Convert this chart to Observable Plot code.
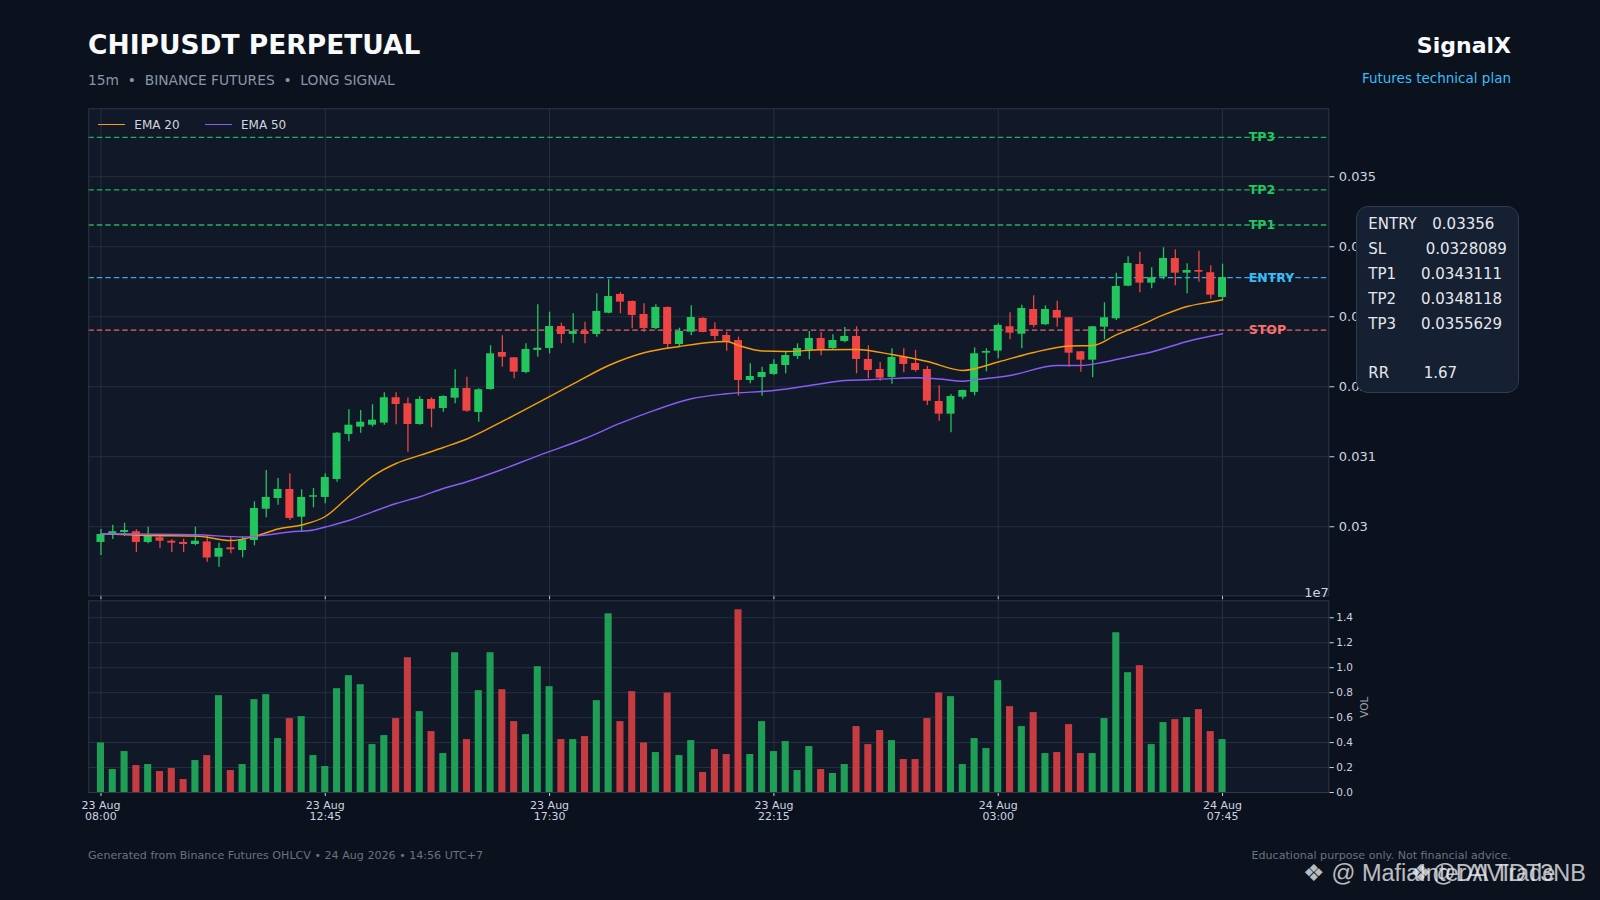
<!DOCTYPE html>
<html><head><meta charset="utf-8">
<script src="https://cdn.jsdelivr.net/npm/d3@7"></script>
<script src="https://cdn.jsdelivr.net/npm/@observablehq/plot@0.6"></script>
<style>
html,body{margin:0;padding:0;background:#0b111d;}
#page{position:relative;width:1600px;height:900px;overflow:hidden;font-family:"DejaVu Sans",sans-serif;background:#0b111d;}
.abs{position:absolute;white-space:pre;line-height:1;}
.plot{position:absolute;left:0;}
</style></head><body><div id="page"></div>
<script>
// ---------------- DATA ----------------
const open = [0.029776,0.029880,0.029919,0.029929,0.029776,0.029843,0.029794,0.029776,0.029747,0.029783,
0.029566,0.029700,0.029661,0.029804,0.030251,0.030404,0.030533,0.030137,0.030423,0.030419,
0.030676,0.031319,0.031423,0.031451,0.031481,0.031843,0.031757,0.031461,0.031819,0.031690,
0.031837,0.031976,0.031633,0.031961,0.032490,0.032414,0.032204,0.032519,0.032547,0.032861,
0.032747,0.032790,0.032747,0.033051,0.033319,0.033219,0.033033,0.032833,0.033133,0.032604,
0.032780,0.032976,0.032819,0.032733,0.032661,0.032090,0.032133,0.032176,0.032304,0.032433,
0.032520,0.032690,0.032547,0.032647,0.032719,0.032390,0.032247,0.032133,0.032419,0.032333,
0.032247,0.031790,0.031609,0.031851,0.031919,0.032480,0.032509,0.032857,0.032751,0.033104,
0.032886,0.033090,0.032986,0.032500,0.032380,0.032851,0.032971,0.033437,0.033747,0.033480,
0.033566,0.033833,0.033623,0.033661,0.033629,0.033276];
const high = [0.029961,0.030023,0.030051,0.029957,0.029994,0.029861,0.029814,0.029823,0.029994,0.029861,
0.029766,0.029861,0.029851,0.030357,0.030804,0.030690,0.030757,0.030529,0.030547,0.030757,
0.031347,0.031671,0.031661,0.031743,0.031914,0.031914,0.031839,0.031857,0.031843,0.031871,
0.032243,0.032137,0.031971,0.032586,0.032729,0.032420,0.032614,0.033171,0.033066,0.032909,
0.033043,0.032923,0.033329,0.033529,0.033343,0.033225,0.033186,0.033171,0.033140,0.032837,
0.033157,0.032985,0.032914,0.032780,0.032709,0.032329,0.032280,0.032386,0.032504,0.032614,
0.032790,0.032776,0.032743,0.032847,0.032857,0.032586,0.032347,0.032543,0.032543,0.032519,
0.032290,0.032014,0.031890,0.031950,0.032557,0.032543,0.032900,0.033057,0.033166,0.033300,
0.033157,0.033223,0.032990,0.032505,0.032862,0.033200,0.033623,0.033857,0.033923,0.033700,
0.033986,0.033957,0.033757,0.033937,0.033729,0.033751];
const low = [0.029590,0.029819,0.029861,0.029633,0.029757,0.029690,0.029633,0.029633,0.029729,0.029494,
0.029423,0.029614,0.029557,0.029729,0.030129,0.030309,0.030090,0.029919,0.030271,0.030329,
0.030637,0.031214,0.031337,0.031423,0.031451,0.031457,0.031064,0.031451,0.031414,0.031637,
0.031757,0.031637,0.031494,0.031951,0.032280,0.032114,0.032186,0.032423,0.032471,0.032614,
0.032623,0.032614,0.032709,0.033043,0.033043,0.032829,0.032780,0.032814,0.032543,0.032576,
0.032729,0.032770,0.032661,0.032509,0.031866,0.032043,0.031866,0.032161,0.032186,0.032390,
0.032386,0.032443,0.032529,0.032629,0.032186,0.032114,0.032080,0.032037,0.032200,0.032209,
0.031733,0.031509,0.031343,0.031814,0.031871,0.032214,0.032400,0.032671,0.032543,0.032843,
0.032876,0.032851,0.032280,0.032209,0.032129,0.032671,0.032947,0.033429,0.033343,0.033400,
0.033529,0.033443,0.033329,0.033494,0.033251,0.033233];
const close = [0.029890,0.029929,0.029947,0.029776,0.029861,0.029794,0.029766,0.029747,0.029794,0.029554,
0.029690,0.029671,0.029814,0.030261,0.030419,0.030533,0.030119,0.030419,0.030443,0.030704,
0.031337,0.031451,0.031494,0.031523,0.031843,0.031747,0.031461,0.031819,0.031680,0.031861,
0.031976,0.031651,0.031957,0.032471,0.032423,0.032209,0.032533,0.032551,0.032861,0.032747,
0.032790,0.032747,0.033076,0.033289,0.033209,0.033019,0.032833,0.033133,0.032604,0.032790,
0.032990,0.032776,0.032719,0.032647,0.032090,0.032147,0.032204,0.032319,0.032447,0.032547,
0.032690,0.032529,0.032661,0.032719,0.032390,0.032233,0.032123,0.032419,0.032319,0.032233,
0.031794,0.031609,0.031861,0.031947,0.032471,0.032504,0.032876,0.032766,0.033119,0.032876,
0.033104,0.032980,0.032480,0.032380,0.032857,0.032986,0.033433,0.033761,0.033480,0.033557,
0.033833,0.033623,0.033661,0.033637,0.033309,0.033560];
const volume = [3970000,1840000,3280000,2160000,2240000,1680000,1920000,1040000,2560000,2960000,
7760000,1760000,2240000,7440000,7840000,4320000,5920000,6080000,2960000,2080000,
8320000,9360000,8640000,3840000,4560000,5920000,10800000,6480000,4880000,3120000,
11200000,4240000,8160000,11200000,8240000,5680000,4640000,10080000,8480000,4240000,
4240000,4480000,7360000,14320000,5680000,8080000,3970000,3200000,7970000,2960000,
4160000,1600000,3440000,3040000,14640000,3040000,5680000,3280000,4080000,1760000,
3680000,1840000,1520000,2240000,5280000,3840000,4960000,4160000,2640000,2640000,
5920000,7970000,7680000,2240000,4320000,3520000,8960000,6880000,5280000,6400000,
3120000,3200000,5440000,3120000,3120000,5920000,12800000,9600000,10160000,3840000,
5600000,5840000,6000000,6640000,4880000,4240000];

// EMA readings from the picture (candle index, value)
const ema20Idx = [0,4,8,11,13,15,17,19,21,23,25,27,29,31,34,37,40,43,46,49,52,53,54,56,58,61,64,67,70,73,76,79,82,84,86,88,90,92,94,95];
const ema20Val = [0.029900,0.029876,0.029869,0.029804,0.029861,0.029969,0.030026,0.030147,0.030433,0.030719,
0.030904,0.031019,0.031133,0.031254,0.031504,0.031769,0.032040,0.032304,0.032486,0.032576,
0.032640,0.032647,0.032590,0.032511,0.032504,0.032529,0.032533,0.032461,0.032361,0.032233,
0.032354,0.032490,0.032583,0.032590,0.032740,0.032876,0.033026,0.033147,0.033211,0.033243];
const ema50Idx = [0,8,12,14,16,18,19,21,23,25,27,29,31,34,37,41,44,47,50,53,57,61,63,65,69,71,73,74,77,81,83,85,87,89,92,95];
const ema50Val = [0.029900,0.029886,0.029854,0.029883,0.029926,0.029954,0.029997,0.030090,0.030214,0.030333,
0.030429,0.030547,0.030643,0.030819,0.031014,0.031261,0.031480,0.031671,0.031829,0.031900,
0.031947,0.032043,0.032090,0.032100,0.032129,0.032111,0.032080,0.032100,0.032161,0.032304,
0.032304,0.032354,0.032426,0.032497,0.032647,0.032757];

const levelNames = ["TP3","TP2","TP1","ENTRY","STOP"];
const levelValues = [0.0355629,0.0348118,0.0343111,0.03356,0.0328089];
const planLabels = ["ENTRY","SL","TP1","TP2","TP3","RR"];
const planValues = ["0.03356","0.0328089","0.0343111","0.0348118","0.0355629","1.67"];

const tickIdx = [0,19,38,57,76,95];
const tickLabels = ["23 Aug\n08:00","23 Aug\n12:45","23 Aug\n17:30","23 Aug\n22:15","24 Aug\n03:00","24 Aug\n07:45"];
const priceTicks = [0.030,0.031,0.032,0.033,0.034,0.035];
const volTicks = [0,2e6,4e6,6e6,8e6,10e6,12e6,14e6];

// ---------------- STYLE ----------------
const GREEN="#22c55e", RED="#ef4444", VGREEN="#1f9f56", VRED="#c73c40";
const PANEL="#111827", GRID="#253042", FRAME="#2d384a", TXT="#cbd5e1";
const LEVEL_COLOR = {TP3:"#22c55e",TP2:"#22c55e",TP1:"#22c55e",ENTRY:"#38bdf8",STOP:"#f87171"};
const FONT = "DejaVu Sans, sans-serif";

const N = close.length;
const candles = d3.range(N).map(i => ({i, o:open[i], h:high[i], l:low[i], c:close[i], v:volume[i], up: close[i] >= open[i]}));
const levels = levelNames.map((name,k) => ({name, value: levelValues[k]}));
const ema20 = ema20Idx.map((i,k) => ({i, v: ema20Val[k]}));
const ema50 = ema50Idx.map((i,k) => ({i, v: ema50Val[k]}));
const xDomain = [-1.03, 104];
const page = document.getElementById("page");

function addText(txt, {x, base, size, weight="normal", color="#fff", anchor="start", family=FONT, opacity=1}) {
  const d = document.createElement("div");
  d.className = "abs";
  d.textContent = txt;
  d.style.fontSize = size + "px";
  d.style.fontWeight = weight;
  d.style.color = color;
  d.style.fontFamily = family;
  d.style.opacity = opacity;
  d.style.top = (base - 0.846*size) + "px";
  if (anchor === "end") d.style.right = (1600 - x) + "px"; else d.style.left = x + "px";
  page.appendChild(d);
  return d;
}

// ---------------- PRICE PANEL ----------------
const price = Plot.plot({
  width: 1600, height: 500,
  marginTop: 8.3, marginBottom: 4.7, marginLeft: 88.3, marginRight: 271.7,
  style: {background: "transparent", fontFamily: FONT, color: TXT, overflow: "visible"},
  x: {domain: xDomain},
  y: {domain: [0.029014, 0.035971]},
  marks: [
    Plot.frame({fill: PANEL}),
    Plot.gridX(tickIdx, {stroke: GRID, strokeOpacity: 1}),
    Plot.gridY(priceTicks, {stroke: GRID, strokeOpacity: 1}),
    Plot.ruleY(levels, {y: "value", stroke: d => LEVEL_COLOR[d.name], strokeWidth: 1.3, strokeDasharray: "5.5,3", strokeOpacity: 0.9}),
    Plot.ruleX(candles, {x: "i", y1: "l", y2: "h", stroke: d => d.up ? GREEN : RED, strokeWidth: 1.3}),
    Plot.rect(candles, {
      x1: d => d.i - 0.34, x2: d => d.i + 0.34,
      y1: d => Math.min(d.o, d.c),
      y2: d => Math.max(d.o, d.c, Math.min(d.o, d.c) + 0.000018),
      fill: d => d.up ? GREEN : RED
    }),
    Plot.line(ema20, {x: "i", y: "v", stroke: "#f59e0b", strokeWidth: 1.4, curve: "monotone-x"}),
    Plot.line(ema50, {x: "i", y: "v", stroke: "#8b5cf6", strokeWidth: 1.4, curve: "monotone-x"}),
    Plot.text(levels, {y: "value", text: "name", frameAnchor: "right", dx: -80, textAnchor: "start",
      fill: d => LEVEL_COLOR[d.name], fontWeight: "bold", fontSize: 12.5}),
    Plot.axisY(priceTicks, {anchor: "right", tickSize: 5, tickPadding: 5, fontSize: 13, color: TXT,
      tickFormat: d3.format("~g"), label: null}),
    Plot.axisX(tickIdx, {anchor: "bottom", tickSize: 4, tickFormat: () => "", color: TXT, label: null}),
    Plot.frame({stroke: FRAME}),
    Plot.text(["1e7"], {text: d => d, frameAnchor: "bottom-right", textAnchor: "end", lineAnchor: "bottom", dy: 1.5, fontSize: 13, fill: TXT})
  ]
});
price.classList.add("plot");
price.style.top = "100px";
page.appendChild(price);

// ---------------- VOLUME PANEL ----------------
const vol = Plot.plot({
  width: 1600, height: 230,
  marginTop: 0.3, marginBottom: 38, marginLeft: 88.3, marginRight: 271.7,
  style: {background: "transparent", fontFamily: FONT, color: TXT, overflow: "visible"},
  x: {domain: xDomain},
  y: {domain: [0, 1.536e7]},
  marks: [
    Plot.frame({fill: PANEL}),
    Plot.gridX(tickIdx, {stroke: GRID, strokeOpacity: 1}),
    Plot.gridY(volTicks, {stroke: GRID, strokeOpacity: 1}),
    Plot.rect(candles, {x1: d => d.i - 0.3, x2: d => d.i + 0.3, y1: 0, y2: "v", fill: d => d.up ? VGREEN : VRED}),
    Plot.axisY(volTicks, {anchor: "right", tickSize: 4.5, tickPadding: 3, fontSize: 10.5, color: TXT,
      tickFormat: d => (d/1e7).toFixed(1), label: null}),
    Plot.axisX(tickIdx, {anchor: "bottom", tickSize: 4, tickPadding: 4, fontSize: 11, color: TXT, label: null,
      tickFormat: d => tickLabels[tickIdx.indexOf(d)], lineHeight: 1.05}),
    Plot.text(["VOL"], {text: d => d, frameAnchor: "right", dx: 36, rotate: -90, fontSize: 10.5, fill: "#9ca3af"}),
    Plot.frame({stroke: FRAME})
  ]
});
vol.classList.add("plot");
vol.style.top = "600px";
page.appendChild(vol);

// ---------------- HEADER / FOOTER ----------------
addText("CHIPUSDT PERPETUAL", {x: 88, base: 54.3, size: 26.5, weight: "bold", color: "#f8fafc"});
addText("15m  \u2022  BINANCE FUTURES  \u2022  LONG SIGNAL", {x: 88, base: 85.7, size: 13.8, color: "#8b95a7"});
addText("SignalX", {x: 1511, base: 54.1, size: 22, weight: "bold", color: "#f8fafc", anchor: "end"});
addText("Futures technical plan", {x: 1511, base: 83, size: 13.5, color: "#38bdf8", anchor: "end"});
addText("Generated from Binance Futures OHLCV \u2022 24 Aug 2026 \u2022 14:56 UTC+7", {x: 88, base: 859, size: 11.1, color: "#6b7280"});
addText("Educational purpose only. Not financial advice.", {x: 1511, base: 859, size: 11.1, color: "#6b7280", anchor: "end"});

// legend
function legendItem(x, color, label) {
  const l = document.createElement("div");
  l.style.cssText = `position:absolute;left:${x}px;top:123.9px;width:26.7px;height:1.6px;background:${color};`;
  page.appendChild(l);
  addText(label, {x: x + 36, base: 129.3, size: 12, color: "#d1d5db"});
}
legendItem(98.3, "#f59e0b", "EMA 20");
legendItem(205, "#8b5cf6", "EMA 50");

// plan box
const box = document.createElement("div");
box.style.cssText = "position:absolute;left:1356px;top:206px;width:163px;height:187px;box-sizing:border-box;background:#162033;border:1px solid #2f3b4f;border-radius:12px;";
page.appendChild(box);
const planBase = [230, 255, 280, 304.5, 329.3, 378.3];
const planValX = [1432.3, 1425.7, 1421, 1421, 1421, 1423.7];
planLabels.forEach((lab, k) => {
  addText(lab, {x: 1368.3, base: planBase[k], size: 15, color: "#e5e7eb"});
  addText(planValues[k], {x: planValX[k], base: planBase[k], size: 15, color: "#e5e7eb"});
});

// watermark overlay
addText("\u2756 @ MafiaInterAI Trade", {x: 1303, base: 882, size: 23.5, color: "#e5e7eb", family: "Liberation Sans Narrow, Liberation Sans, sans-serif", opacity: 0.8});
addText("\u2756@DAVIDT3NB", {x: 1410, base: 882, size: 23.5, color: "#e5e7eb", family: "Liberation Sans Narrow, Liberation Sans, sans-serif", opacity: 0.8});
</script></body></html>
